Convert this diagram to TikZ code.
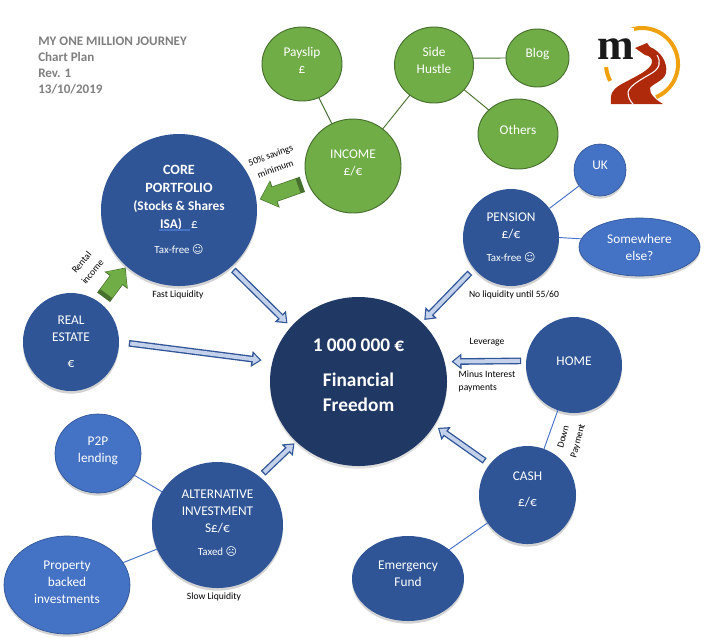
\documentclass[tikz,border=0pt]{standalone}
\usepackage{fontspec}
\setmainfont{Carlito}
\newfontfamily\symfont{DejaVu Sans}
\usetikzlibrary{arrows.meta,shapes.geometric,shadows}
\definecolor{incomegreen}{HTML}{70AD47}
\definecolor{incomeedge}{HTML}{47702E}
\definecolor{assetblue}{HTML}{2F5597}
\definecolor{sideblue}{HTML}{4472C4}
\definecolor{goalblue}{HTML}{203864}
\definecolor{flowfill}{HTML}{C3D1EA}
\definecolor{titlegray}{HTML}{7F7F7F}
\definecolor{logoorange}{HTML}{EFA10F}
\definecolor{logored}{HTML}{AE2A0B}
\newcommand{\smiley}{{\symfont\char"263A}}
\newcommand{\frowny}{{\symfont\char"2639}}
\tikzset{
	bub/.style 2 args={ellipse,inner sep=0pt,outer sep=0pt,minimum width=#1*.75pt,minimum height=#2*.75pt,align=center,text=white,font=\fontsize{10}{12.75}\selectfont},
	gbub/.style 2 args={bub={#1}{#2},fill=incomegreen,draw=incomeedge,line width=.7pt},
	dbub/.style 2 args={bub={#1}{#2},fill=assetblue,drop shadow={shadow xshift=0pt,shadow yshift=-2pt,opacity=.35}},
	lbub/.style 2 args={bub={#1}{#2},fill=sideblue,draw=assetblue,line width=.5pt,drop shadow={shadow xshift=0pt,shadow yshift=-2pt,opacity=.35}},
	note/.style={inner sep=0pt,align=center,font=\fontsize{7.2}{9.75}\selectfont},
	gline/.style={draw=incomeedge,line width=.7pt},
	bline/.style={draw=sideblue,line width=.7pt},
	flowarrow/.style 2 args={draw=assetblue,line width=5pt,shorten <=#1*.75pt,shorten >=#2*.75pt,-{Triangle[length=7.5pt,width=11.5pt]},
		postaction={draw=flowfill,line width=3pt,shorten <=#1*.75pt+1pt,shorten >=#2*.75pt+1.4pt,-{Triangle[length=5pt,width=7.5pt]}}},
	savearrow/.style 2 args={draw=incomeedge,line width=12pt,shorten <=#1*.75pt,shorten >=#2*.75pt,-{Triangle[length=12pt,width=21pt]},
		postaction={draw=incomegreen,line width=11pt,shorten <=#1*.75pt+3.5pt,shorten >=#2*.75pt+.8pt,-{Triangle[length=10.5pt,width=19pt]}}}
}
\begin{document}
\begin{tikzpicture}[x=.75pt,y=-.75pt]
	\useasboundingbox (0,0) rectangle (705,637);

	\node [anchor=west,inner sep=0pt,align=left,text=titlegray,font=\fontsize{9.8}{12}\selectfont\bfseries] (title) at (38,66) {MY ONE MILLION JOURNEY\\Chart Plan\\Rev. 1\\13/10/2019};

	\node [gbub={80}{74},text depth=4.8pt] (payslip) at (302,64) {Payslip\\£};
	\node [gbub={79}{76},text depth=7pt] (side) at (434,65) {Side\\Hustle};
	\node [gbub={63}{58},text depth=8pt] (blog) at (537.5,58) {Blog};
	\node [gbub={80}{70},text depth=6.5pt] (others) at (518,134) {Others};
	\node [gbub={96}{94},text depth=5pt] (income) at (353,166) {INCOME\\£/€};

	\node [dbub={156}{152},font=\fontsize{10.6}{13.5}\selectfont\bfseries] (core) at (179,210) {CORE\\PORTFOLIO\\{\fontsize{10}{13}\selectfont (Stocks \& Shares}\\{\fontsize{10}{13}\selectfont ISA)\ \ \ \mdseries£}\\[5pt]{\fontsize{8.2}{11}\mdseries\selectfont Tax-free \smiley}};
	\node [dbub={96}{97}] (pension) at (511,237.5) {PENSION\\£/€\\[5pt]{\fontsize{8.2}{11}\selectfont Tax-free \smiley}};
	\node [lbub={52}{52},text depth=6.5pt] (uk) at (600,170) {UK};
	\node [lbub={121}{58},text depth=-3.5pt] (else) at (639.5,247) {Somewhere\\else?};

	\node [ellipse,inner sep=0pt,outer sep=0pt,minimum width=132.75pt,minimum height=126.75pt,fill=goalblue,align=center,text=white,text depth=9pt,font=\fontsize{14.5}{19}\selectfont\bfseries,drop shadow={shadow xshift=0pt,shadow yshift=-2pt,opacity=.25}] (goal) at (358.5,381.5) {1 000 000 €\\[7pt]Financial\\Freedom};

	\node [dbub={96}{98}] (real) at (71,342) {REAL\\ESTATE\\[7pt]€};
	\node [dbub={96}{96},text depth=5.5pt] (home) at (574,365) {HOME};
	\node [dbub={97}{98},text depth=8.5pt] (cash) at (527.5,495) {CASH\\[7pt]£/€};
	\node [dbub={112}{85},text depth=6.5pt] (emergency) at (408,578.5) {Emergency\\Fund};
	\node [lbub={86}{79},text depth=6.5pt] (p2p) at (98,453.5) {P2P\\lending};
	\node [dbub={131}{126},text depth=4pt] (alt) at (217.5,525) {ALTERNATIVE\\INVESTMENT\\S£/€\\[4.5pt]{\fontsize{8.2}{11}\selectfont Taxed \frowny}};
	\node [lbub={126}{98},text depth=4.5pt] (property) at (67,585) {Property\\backed\\investments};

	\draw [gline] (payslip) -- (income);
	\draw [gline] (income) -- (side);
	\draw [gline] (side) -- (others);
	\draw [gline] (side.10) -- (blog.180);
	\draw [bline] (pension) -- (uk);
	\draw [bline] (pension.0) -- (else.172);
	\draw [bline] (home) -- (cash);
	\draw [bline] (cash) -- (emergency);
	\draw [bline] (p2p) -- (alt);
	\draw [bline] (property) -- (alt);

	\draw [flowarrow={4}{5}] (core.-48) -- (goal.141);
	\draw [flowarrow={6}{3.5}] (pension.220) -- (goal.43);
	\draw [flowarrow={10}{11}] (real.0) -- (goal.167);
	\draw [flowarrow={5}{7}] (home.175) -- (goal.13);
	\draw [flowarrow={6}{4.5}] (cash.141) -- (goal.-30);
	\draw [flowarrow={5}{2.5}] (alt.49) -- (goal.224);
	\draw [savearrow={6}{3.6}] (income.200.8) -- (core.7);
	\draw [savearrow={6.7}{1.6}] (real.54.6) -- (core.227.6);

	\draw [draw=sideblue,line width=1.1pt] (159,230) -- (190,230);

	\node [note,rotate=20] (savings) at (273,162) {50\% savings\\[1pt]minimum};
	\node [note,rotate=50] (rental) at (87,267) {Rental\\[1pt]income};
	\node [note] (fast) at (178,295) {Fast Liquidity};
	\node [note] (noliq) at (514,295) {No liquidity until 55/60};
	\node [note] (leverage) at (487,342) {Leverage};
	\node [note,align=left] (minus) at (487,381.5) {Minus Interest\\payments};
	\node [note,rotate=75] (down) at (571,439) {Down\\[1.5pt]Payment};
	\node [note] (slow) at (214,597) {Slow Liquidity};

	\draw [draw=logoorange,line width=3pt] (621.4,34.5) arc (-125:67:36);
	\draw [draw=logoorange,line width=3pt] (606.1,67.1) arc (-185:-208:36);
	\fill [logored] (635,48) -- (647,43) -- (650,47) .. controls (660,51) and (668,62) .. (666,73) .. controls (664,81) and (652,84) .. (650,88) .. controls (649,94) and (656,100) .. (663,104) -- (611,104) .. controls (610,94) and (612,90) .. (620,85) .. controls (632,78) and (652,70) .. (652,62) .. controls (652,58) and (650,56) .. (645,55) -- cycle;
	\draw [white,line width=.8pt] (657,55) .. controls (661,62) and (660,68) .. (652,73) .. controls (642,79) and (630,85) .. (628,92) .. controls (628,97) and (630,101) .. (633,104);
	\fill [white] (596,28) rectangle (634,66);
	\node [inner sep=0pt,font=\fontsize{33}{33}\selectfont\fontspec{Liberation Serif}\bfseries,text=black!90] (logo) at (616,49.5) {m};
\end{tikzpicture}
\end{document}
